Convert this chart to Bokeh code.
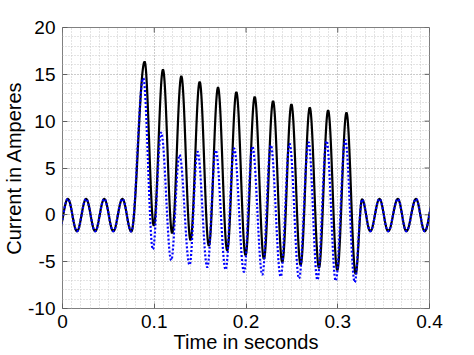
import numpy as np
from bokeh.plotting import figure
from bokeh.models import FixedTicker, NumeralTickFormatter, Range1d
from bokeh.embed import file_html
from bokeh.resources import INLINE

# ---- data: times (s) and values (A) of successive extrema ----
# pre-fault steady state (shared by both traces); first point lies just before t=0
pre_t = [-0.0042, 0.0058, 0.0158, 0.0257, 0.0356, 0.0455, 0.0554, 0.0653, 0.0750]
pre_v = [-1.75, 1.70, -1.75, 1.70, -1.75, 1.70, -1.75, 1.70, -1.78]

# fault period, black solid trace
black_t = [0.0895, 0.0995, 0.1095, 0.1195, 0.1295, 0.1395, 0.1495, 0.1595,
           0.1695, 0.1795, 0.1895, 0.1995, 0.2095, 0.2195, 0.2295, 0.2395,
           0.2495, 0.2595, 0.2695, 0.2795, 0.2895, 0.2995, 0.3095, 0.3195]
black_v = [16.35, -1.15, 15.5, -1.95, 14.8, -2.7, 14.2, -3.3,
           13.6, -3.8, 13.1, -4.3, 12.6, -4.7, 12.15, -5.05,
           11.8, -5.35, 11.45, -5.65, 11.15, -5.9, 10.9, -6.3]

# fault period, blue dotted trace
blue_t = [0.0880, 0.0985, 0.1075, 0.1185, 0.1275, 0.1385, 0.1472, 0.1578,
          0.1670, 0.1778, 0.1870, 0.1978, 0.2070, 0.2178, 0.2270, 0.2378,
          0.2475, 0.2578, 0.2682, 0.2778, 0.2878, 0.2978, 0.3082, 0.3185]
blue_v = [14.6, -3.7, 8.8, -4.85, 6.4, -5.35, 6.75, -5.6,
          6.9, -5.85, 7.1, -6.1, 7.3, -6.4, 7.45, -6.6,
          7.6, -6.8, 7.75, -6.95, 7.9, -7.05, 8.0, -7.2]

# post-fault steady state (shared); last point lies just after t=0.4
post_t = [0.3265, 0.3355, 0.3455, 0.3550, 0.3655, 0.3748, 0.3853, 0.3948, 0.4048]
post_v = [1.65, -1.75, 1.70, -1.75, 1.70, -1.75, 1.70, -1.75, 1.70]

x_ticks = [0, 0.1, 0.2, 0.3, 0.4]
y_ticks = [-10, -5, 0, 5, 10, 15, 20]
x_lim = (0, 0.4)
y_lim = (-10, 20)


def trace(ts, vs, n=30):
    """Smooth half-cosine connection between successive extrema."""
    xs, ys = [], []
    for i in range(len(ts) - 1):
        s = np.linspace(0.0, 1.0, n, endpoint=False)
        xs.extend(ts[i] + (ts[i + 1] - ts[i]) * s)
        ys.extend(vs[i] + (vs[i + 1] - vs[i]) * (1 - np.cos(np.pi * s)) / 2)
    xs.append(ts[-1])
    ys.append(vs[-1])
    return xs, ys


bx, by = trace(pre_t + black_t + post_t, pre_v + black_v + post_v)
ux, uy = trace(pre_t + blue_t + post_t, pre_v + blue_v + post_v)

FONT = "Liberation Sans"
TICK_COLOR = "#606060"

p = figure(width=474, height=355, output_backend="svg", toolbar_location=None,
           x_range=Range1d(*x_lim), y_range=Range1d(*y_lim),
           min_border_left=62, min_border_right=45, min_border_top=27,
           min_border_bottom=46, x_axis_label="Time in seconds",
           y_axis_label="Current in Amperes")
p.background_fill_color = "white"
p.border_fill_color = "white"
p.outline_line_color = "#808080"
p.outline_line_width = 1

x_minor = [round(i * 0.01, 2) for i in range(41)]
y_minor = list(range(-10, 21))

p.xaxis.ticker = FixedTicker(ticks=x_ticks, minor_ticks=x_minor)
p.yaxis.ticker = FixedTicker(ticks=y_ticks, minor_ticks=y_minor)
p.xaxis.formatter = NumeralTickFormatter(format="0.[0]")
p.yaxis.formatter = NumeralTickFormatter(format="0")

for ax in (p.xaxis[0], p.yaxis[0]):
    ax.axis_line_color = None
    ax.major_tick_in = 5
    ax.major_tick_out = 0
    ax.major_tick_line_color = TICK_COLOR
    ax.minor_tick_line_color = None
    ax.major_label_text_font = FONT
    ax.major_label_text_font_size = "19px"
    ax.major_label_text_color = "black"
    ax.axis_label_text_font = FONT
    ax.axis_label_text_font_size = "20px"
    ax.axis_label_text_font_style = "normal"
    ax.axis_label_text_color = "black"
p.xaxis.major_label_standoff = 2
p.xaxis.axis_label_standoff = 0
p.yaxis.major_label_standoff = 3
p.yaxis.axis_label_standoff = 0

for g in (p.xgrid[0], p.ygrid[0]):
    g.grid_line_color = "#b4b4b4"
    g.grid_line_dash = "1 2"
    g.grid_line_width = 1
    g.minor_grid_line_color = "#c8c8c8"
    g.minor_grid_line_dash = "1 2"
    g.minor_grid_line_width = 1

# mirror tick marks on the top and right edges of the box
p.ray(x=x_ticks, y=y_lim[1], length=5, length_units="screen",
      angle=-np.pi / 2, line_color=TICK_COLOR, line_width=1)
p.ray(x=x_lim[1], y=y_ticks, length=5, length_units="screen",
      angle=np.pi, line_color=TICK_COLOR, line_width=1)

p.line(bx, by, line_color="black", line_width=2.2)
p.line(ux, uy, line_color="#0000ff", line_width=2.2, line_dash="2 2")

open("out.html", "w").write(file_html(p, INLINE))
